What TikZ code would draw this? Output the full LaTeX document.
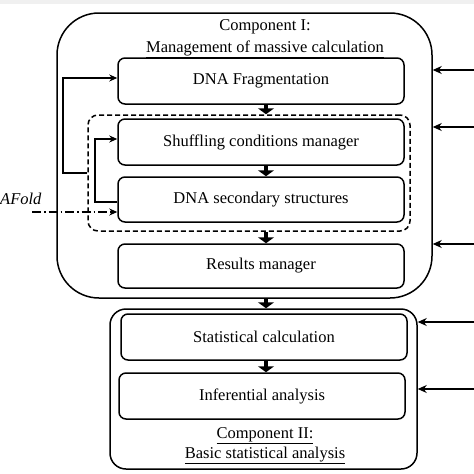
\documentclass[tikz,border=0pt]{standalone}
\usepackage{fontspec}
\setmainfont{Liberation Serif}
\usetikzlibrary{arrows.meta,positioning}

\tikzset{
  stage/.style={draw, line width=1.5pt, rounded corners=7pt, minimum width=286pt, minimum height=46pt, font=\fontsize{16.5}{20}\selectfont},
  heading/.style={align=center, font=\fontsize{16.5}{22}\selectfont},
  flow/.style={line width=4pt, -{Triangle[length=6pt,width=16pt]}},
  feed/.style={line width=1.6pt, -{Stealth[length=8pt,width=7pt]}},
  inarrow/.style={line width=1.2pt, -{Stealth[length=9pt,width=8pt]}},
}

\begin{document}
\begin{tikzpicture}[x=1pt,y=-1pt]
    \useasboundingbox (0,0) rectangle (474,474);
    \fill[gray!12] (0,0) rectangle (474,4);

    % Component I
    \node[draw, line width=1.5pt, rounded corners=42pt, minimum width=375pt, minimum height=285pt] (comp1) at (244.5,155.5) {};
    \node[heading] (title1) at (265,39) {Component I:\\\underline{Management of massive calculation}};
    \node[draw, dashed, dash pattern=on 5pt off 3pt, line width=1.5pt, rounded corners=10pt, minimum width=322pt, minimum height=116pt] (dash) at (249,173) {};

    \node[stage] (frag) at (261,81) {DNA Fragmentation};
    \node[stage] (shuf) at (261,142) {Shuffling conditions manager};
    \node[stage, minimum height=45pt] (sec) at (261,199.5) {DNA secondary structures};
    \node[stage, minimum height=44pt] (res) at (261,266) {Results manager};

    % Component II
    \node[draw, line width=1.5pt, rounded corners=16pt, minimum width=307pt, minimum height=160pt] (comp2) at (263.5,389) {};
    \node[stage] (stat) at (264,337) {Statistical calculation};
    \node[stage] (inf) at (262,396) {Inferential analysis};
    \node[heading, font=\fontsize{16.5}{20}\selectfont] (title2) at (265,446) {\underline{Component II:}\\\underline{Basic statistical analysis}};

    % Flusso principale
    \coordinate (axis) at (266,0);
    \draw[flow] (frag.south -| axis) -- (dash.north -| axis);
    \draw[flow] (shuf.south -| axis) -- (sec.north -| axis);
    \draw[flow] (dash.south -| axis) -- (res.north -| axis);
    \draw[flow] (comp1.south -| axis) -- (comp2.north -| axis);
    \draw[flow] (stat.south -| axis) -- (inf.north -| axis);

    % Retroazioni
    \coordinate (loopA) at (63,173);
    \coordinate (loopB) at (95,202);
    \draw[feed] (dash.west |- loopA) -- (loopA) |- ([yshift=3pt]frag.west);
    \draw[feed] (sec.west |- loopB) -- (loopB) |- ([yshift=3pt]shuf.west);

    % Strumento esterno
    \coordinate (tool) at (32,212);
    \node[anchor=east, font=\fontsize{16.5}{20}\selectfont\itshape] (toollbl) at (45,199) {AFold};
    \draw[feed, dash pattern=on 9pt off 3pt on 1.5pt off 3pt] (tool) -- (tool -| sec.west);

    % Ingressi da destra
    \coordinate (in1) at (474,70);
    \coordinate (in2) at (474,127);
    \coordinate (in3) at (474,244);
    \coordinate (in4) at (474,322);
    \coordinate (in5) at (474,389);
    \draw[inarrow] (in1) -- (in1 -| comp1.east);
    \draw[inarrow] (in2) -- (in2 -| comp1.east);
    \draw[inarrow] (in3) -- (in3 -| comp1.east);
    \draw[inarrow] (in4) -- (in4 -| comp2.east);
    \draw[inarrow] (in5) -- (in5 -| comp2.east);
\end{tikzpicture}
\end{document}
